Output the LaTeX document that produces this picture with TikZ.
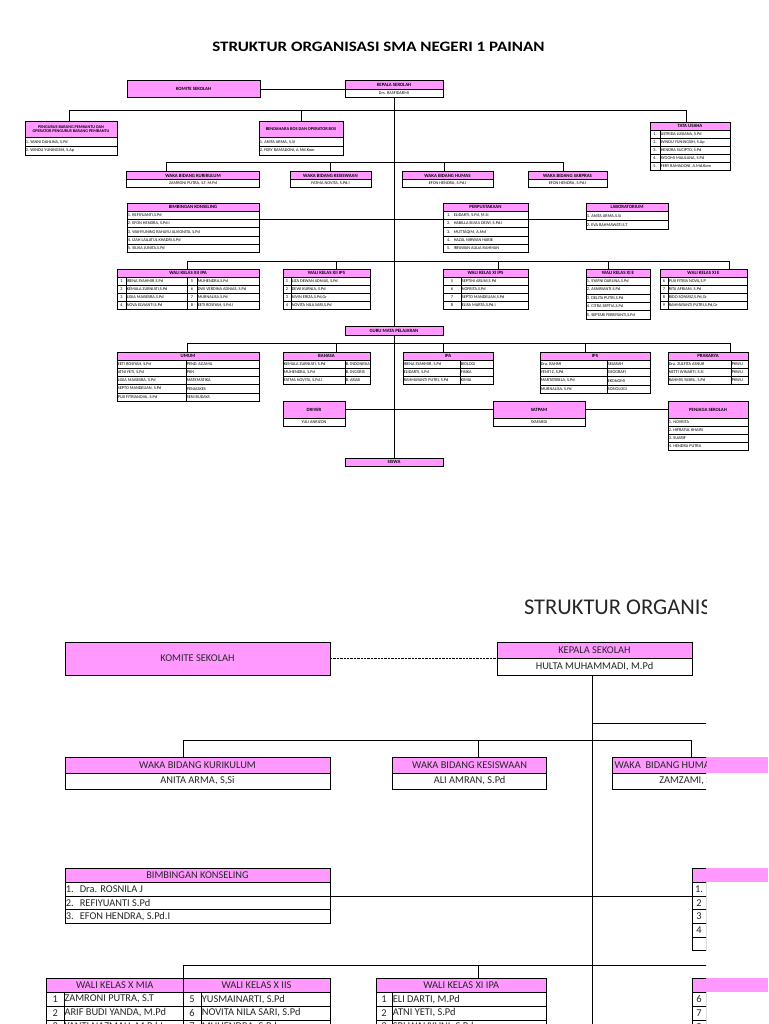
\documentclass[tikz,border=0pt]{standalone}
\usepackage{fontspec}
\setmainfont{Carlito}
\usepackage{graphicx}
\usepackage{tikz}
\usetikzlibrary{positioning,calc}
\definecolor{kotak}{RGB}{255,153,255}

\begin{document}
\begin{tikzpicture}[
    x=1pt, y=-1pt,
    every node/.style={inner sep=0pt, outer sep=0pt},
    kecil/.style={font=\fontsize{4.3}{4.7}\selectfont},
    kecilb/.style={font=\fontsize{4.8}{5.2}\selectfont\bfseries},
    besar/.style={font=\fontsize{10.4}{12}\selectfont, text=black!85},
    hd/.style={draw, fill=kotak, minimum width=#1, align=center, anchor=north west, kecilb},
    bd/.style={draw, fill=white, minimum width=#1, align=center, anchor=north west, kecil},
    rw/.style={draw, fill=white, anchor=north west, kecil,
        execute at begin node={\hbox to #1pt\bgroup\kern0.8pt},
        execute at end node={\hss\egroup}},
    garis/.style={line width=0.6pt},
    garisB/.style={line width=0.9pt},
    putus/.style={line width=0.9pt, dash pattern=on 2.4pt off 1pt}
]
\useasboundingbox (0,0) rectangle (768,1024);

% ===== Bagian atas =====
\node[font=\fontsize{14.4}{16}\selectfont\bfseries] (judulA) at (378.4,47.3)
    {\scalebox{1.18}[1]{STRUKTUR ORGANISASI SMA NEGERI 1 PAINAN}};

% Komite dan kepala sekolah
\node[hd=133, minimum height=17.7] (komiteA) at (127,80) {KOMITE SEKOLAH};
\node[hd=98, minimum height=9] (kepalaA) at (345,80) {KEPALA SEKOLAH};
\node[bd=98, minimum height=8.7] (kepalaAn) at (345,89) {Drs. RASFIDARMI};

% Pengurus barang, bendahara, tata usaha
\node[hd=92, minimum height=16.5, font=\fontsize{4.2}{4.6}\selectfont\bfseries] (pbA) at (25,121)
    {PENGURUS BARANG PEMBANTU DAN\\OPERATOR PENGURUS BARANG PEMBANTU};
\foreach \t [count=\i] in {{1. YANNI DAHLINA, S.Pd},{2. WINDU YUNINGSIH, S.Ap}}
    \node[rw=92, minimum height=8.75] (pb\i) at (25,{137.5+(\i-1)*8.75}) {\t};
\node[hd=84, minimum height=16.5, font=\fontsize{4.4}{4.8}\selectfont\bfseries] (bosA) at (259,121) {BENDAHARA BOS DAN OPERATOR BOS};
\foreach \t [count=\i] in {{1. ANITA ARMA, S.Si},{2. FERY RAMADONI, A.Md.Kom}}
    \node[rw=84, minimum height=8.75] (bos\i) at (259,{137.5+(\i-1)*8.75}) {\t};
\node[hd=80, minimum height=8] (tuA) at (650,122) {TATA USAHA};
\foreach \t [count=\i] in {{ASTRIDA LUSIANA, S.Pd},{WINDU YUNINGSIH, S.Ap},{HENDRA SUCIPTO, S.Pd},
        {SYOOMI MAULANA, S.Pd},{FERY RAMADONI, A.Md.Kom}} {
    \node[bd=10, minimum height=8] (tuN\i) at (650,{130+(\i-1)*8}) {\i.};
    \node[rw=70, minimum height=8] (tu\i) at (660,{130+(\i-1)*8}) {\t};
}

% Waka
\node[hd=133, minimum height=7.5] (kurA) at (126.5,171.7) {WAKA BIDANG KURIKULUM};
\node[bd=133, minimum height=8.5] (kurAn) at (126.5,179.2) {ZAMRONI PUTRA, S.T, M.Pd};
\node[hd=81, minimum height=7.5] (kesA) at (290,171.7) {WAKA BIDANG KESISWAAN};
\node[bd=81, minimum height=8.5] (kesAn) at (290,179.2) {FATMA NOVITA, S.Pd.I};
\node[hd=91, minimum height=7.5] (humA) at (402,171.7) {WAKA BIDANG HUMAS};
\node[bd=91, minimum height=8.5] (humAn) at (402,179.2) {EFON HENDRA, S.Pd.I};
\node[hd=79, minimum height=7.5] (sarA) at (528,171.7) {WAKA BIDANG SARPRAS};
\node[bd=79, minimum height=8.5] (sarAn) at (528,179.2) {EFON HENDRA, S.Pd.I};

% BK, perpustakaan, laboratorium
\node[hd=132, minimum height=8] (bkA) at (127,203) {BIMBINGAN KONSELING};
\foreach \t [count=\i] in {{1. REFIYUANTI,S.Pd},{2. EFON HENDRA, S.Pd.I},{3. WAHYUNING RAHAYU ALVIONITA, S.Pd},
        {4. IZAH LAILATUL KHADRI,S.Pd},{5. SILVIA JUNITA,S.Pd}}
    \node[rw=132, minimum height=8.33] (bk\i) at (127,{211+(\i-1)*8.33}) {\t};
\node[hd=85, minimum height=8] (perA) at (443,203) {PERPUSTAKAAN};
\foreach \t [count=\i] in {{ELIDARTI, S.Pd, M.Si},{HABILLA SILVIA DEWI, S.Pd.I},{MUTTAQIM, A.Md},
        {HAZAL NIRWAN HABIE},{IRFAWAN AULIA RAHMAN}}
    \node[rw=85, minimum height=8.33] (per\i) at (443,{211+(\i-1)*8.33}) {\makebox[10pt]{\i.}\t};
\node[hd=82, minimum height=8.3] (labA) at (586,203) {LABORATORIUM};
\foreach \t [count=\i] in {{1. ANITA ARMA,S.Si},{2. EVA RAHMAWATI,S.T}}
    \node[rw=82, minimum height=9.2] (lab\i) at (586,{211.3+(\i-1)*9.2}) {\t};

% Wali kelas
\node[hd=142, minimum height=8] (wk1A) at (117,269) {WALI KELAS XII IPA};
\foreach \xa/\ya/\xb/\yb [count=\i] in {1/{IRENA SYAHMIR,S.Pd}/5/{MUHENDRA,S.Pd},
        2/{KEMALA ZURNIATI,S.Pd}/6/{DWI VERDINA ADNIAS, S.Pd},3/{LIDIA MAISESRA,S.Pd}/7/{MURNALISA,S.Pd},
        4/{NOVA ELVIANTI,S.Pd}/8/{EETI ROSIYAH, S.Pd.I}} {
    \node[bd=9, minimum height=8] (wk1a\i) at (117,{277+(\i-1)*8}) {\xa};
    \node[rw=61, minimum height=8] (wk1s\i) at (126,{277+(\i-1)*8}) {\ya};
    \node[bd=10, minimum height=8] (wk1b\i) at (187,{277+(\i-1)*8}) {\xb};
    \node[rw=62, minimum height=8] (wk1t\i) at (197,{277+(\i-1)*8}) {\yb};
}
\node[hd=87, minimum height=8] (wk2A) at (283,269) {WALI KELAS XII IPS};
\foreach \t [count=\i] in {{LIZA DEWAN ADNIAS, S.Pd},{DEWI KURNIA, S.Pd},{NIVIN ERIZA,S.Pd,Gr},{NOVITA NILA SARI,S.Pd}} {
    \node[bd=8, minimum height=8] (wk2a\i) at (283,{277+(\i-1)*8}) {\i};
    \node[rw=79, minimum height=8] (wk2s\i) at (291,{277+(\i-1)*8}) {\t};
}
\node[hd=85, minimum height=8] (wk3A) at (443,269) {WALI KELAS XI IPS};
\foreach \n/\t in {5/{SEPTINI ARLINI,S.Pd},6/{NOFRITA,S.Pd},7/{SEPTO MANDELIAN,S.Pd},8/{ELISA MARTA,S.Pd.I}} {
    \node[bd=18, minimum height=8] (wk3a\n) at (443,{277+(\n-5)*8}) {\n};
    \node[rw=67, minimum height=8] (wk3s\n) at (461,{277+(\n-5)*8}) {\t};
}
\node[hd=64, minimum height=8] (wk4A) at (586,269) {WALI KELAS XI E};
\foreach \t [count=\i] in {{1. SYAFNI DARLINA,S.Pd},{2. ASNIRIANTI,S.Pd},{3. DELITA PUTRI,S.Pd},
        {4. CITRA SEPTIA,S.Pd},{5. SEPTARI FEBRIYANTI,S.Pd}}
    \node[rw=64, minimum height=8.4] (wk4s\i) at (586,{277+(\i-1)*8.4}) {\t};
\node[hd=87, minimum height=8] (wk5A) at (660,269) {WALI KELAS XI E};
\foreach \n/\t in {6/{PUJI FITRIA NOVA,S.P},7/{RITA AFRIANI, S.Pd},8/{RIDO SOFARIZ,S.Pd,Gr},9/{RAHMAYANTI PUTRI,S.Pd,Gr}} {
    \node[bd=8, minimum height=8] (wk5a\n) at (660,{277+(\n-6)*8}) {\n};
    \node[rw=79, minimum height=8] (wk5s\n) at (668,{277+(\n-6)*8}) {\t};
}

% Guru mata pelajaran
\node[hd=98, minimum height=9] (guruA) at (345,326) {GURU MATA PELAJARAN};
\node[hd=142, minimum height=8] (umumA) at (117,352) {UMUM};
\foreach \ya/\yb [count=\i] in {{EETI ROSIYAH, S.Pd}/{PEND. AGAMA},{ATNI YETI, S.Pd}/{PKN},
        {LIDIA MAISESRA, S.Pd}/{MATEMATIKA},{SEPTO MANDELIAN, S.Pd}/{PENJASKES},{PUJI FITRIANOVA, S.Pd}/{SENI BUDAYA}} {
    \node[rw=69, minimum height=8.2] (umum\i) at (117,{360+(\i-1)*8.2}) {\ya};
    \node[rw=73, minimum height=8.2] (umumM\i) at (186,{360+(\i-1)*8.2}) {\yb};
}
\node[hd=87, minimum height=8] (bhsA) at (283,352) {BAHASA};
\foreach \ya/\yb [count=\i] in {{KEMALA ZURNIATI, S.Pd}/{B. INDONESIA},{MUHENDRA, S.Pd}/{B. INGGRIS},
        {FATMA NOVITA, S.Pd.I}/{B. ARAB}} {
    \node[rw=62, minimum height=8] (bhs\i) at (283,{360+(\i-1)*8}) {\ya};
    \node[rw=25, minimum height=8] (bhsM\i) at (345,{360+(\i-1)*8}) {\yb};
}
\node[hd=90, minimum height=8] (ipaA) at (403,352) {IPA};
\foreach \ya/\yb [count=\i] in {{IRENA SYAHMIR, S.Pd}/{BIOLOGI},{ELIDARTI, S.Pd}/{FISIKA},
        {RAHMAYANTI PUTRI, S.Pd}/{KIMIA}} {
    \node[rw=57, minimum height=8] (ipa\i) at (403,{360+(\i-1)*8}) {\ya};
    \node[rw=33, minimum height=8] (ipaM\i) at (460,{360+(\i-1)*8}) {\yb};
}
\node[hd=110, minimum height=8] (ipsA) at (540,352) {IPS};
\foreach \ya/\yb [count=\i] in {{Dra. RAHMI}/{SEJARAH},{YENTI Z, S.Pd}/{GEOGRAFI},
        {MARTATIBELA, S.Pd}/{EKONOMI},{MURNALISA, S.Pd}/{SOSIOLOGI}} {
    \node[rw=67, minimum height=8.25] (ips\i) at (540,{360+(\i-1)*8.25}) {\ya};
    \node[rw=43, minimum height=8.25] (ipsM\i) at (607,{360+(\i-1)*8.25}) {\yb};
}
\node[hd=80, minimum height=8] (praA) at (668,352) {PRAKARYA};
\foreach \ya/\yb [count=\i] in {{Dra. ZULFITA ASNUR}/{PKWU},{NETTI WINARTI, S.Si}/{PKWU},
        {RAHMIS YASRIL, S.Pd}/{PKWU}} {
    \node[rw=63, minimum height=8] (pra\i) at (668,{360+(\i-1)*8}) {\ya};
    \node[rw=17, minimum height=8] (praM\i) at (731,{360+(\i-1)*8}) {\yb};
}

% Driver, satpam, penjaga, siswa
\node[hd=62, minimum height=17] (drvA) at (283,401) {DRIVER};
\node[bd=62, minimum height=8] (drvAn) at (283,418) {YULI ANRIZON};
\node[hd=92, minimum height=17] (satA) at (493,401) {SATPAM};
\node[bd=92, minimum height=8] (satAn) at (493,418) {SYAFARDI};
\node[hd=80, minimum height=17] (pjgA) at (668,401) {PENJAGA SEKOLAH};
\foreach \t [count=\i] in {{1. NOVRITA},{2. HIFRATUL KHAIRI},{3. SUARIF},{4. HENDRA PUTRA}}
    \node[rw=80, minimum height=8] (pjg\i) at (668,{418+(\i-1)*8}) {\t};
\node[hd=98, minimum height=8] (siswaA) at (345,458) {SISWA};

% -- garis bagian atas --
\draw[garis] (komiteA.east) -- (komiteA.east -| kepalaA.west);
\draw[garis] (kepalaAn.south) -- (guruA.north);
\draw[garis] (guruA.south) -- (siswaA.north);
\draw[garis] ([xshift=-2pt]pbA.north) -- ++(0,-11) -| ([xshift=-4pt]tuA.north);
\draw[garis] (bosA.north) -- ++(0,-11);
\draw[garis] ([xshift=-27pt]kurA.north) -- ++(0,-9) -| ([xshift=-4pt]sarA.north);
\draw[garis] (kesA.north) -- ++(0,-9);
\draw[garis] ([xshift=-3.5pt]humA.north) -- ++(0,-9);
\draw[garis] (bk2.north east) -- (bk2.north east -| perA.west);
\draw[garis] (bk2.north east -| perA.east) -- (bk2.north east -| labA.west);
\draw[garis] ([xshift=-1pt]wk1A.north) -- ++(0,-8) -| ([xshift=25.5pt]wk5A.north);
\draw[garis] ([xshift=9.5pt]wk2A.north) -- ++(0,-8);
\draw[garis] ([xshift=12.5pt]wk3A.north) -- ++(0,-8);
\draw[garis] ([xshift=-10pt]wk4A.north) -- ++(0,-8);
\draw[garis] ([xshift=-1pt]umumA.north) -- ++(0,-9) -| ([xshift=22pt]praA.north);
\draw[garis] ([xshift=9.5pt]bhsA.north) -- ++(0,-9);
\draw[garis] ([xshift=-5pt]ipaA.north) -- ++(0,-9);
\draw[garis] ([xshift=-10pt]ipsA.north) -- ++(0,-9);
\draw[garis] (drvA.east) -- (satA.west);
\draw[garis] (satA.east) -- (pjgA.west);

% ===== Bagian bawah (terpotong di kanan) =====
\fill[kotak] (706,756.7) rectangle (768,772.7);
\fill[kotak] (706,868.3) rectangle (768,882.3);
\fill[kotak] (706,978.3) rectangle (768,992.3);
\begin{scope}
\clip (0,560) rectangle (706,1024);
\node[font=\fontsize{22.5}{26}\selectfont, text=black!85, anchor=west] (judulB) at (524,607)
    {STRUKTUR ORGANISASI SMA NEGERI 1 PAINAN};

\node[hd=265, minimum height=33.3, besar] (komiteB) at (65,641.7) {KOMITE SEKOLAH};
\node[hd=195, minimum height=16, besar] (kepalaB) at (497,641.7) {KEPALA SEKOLAH};
\node[bd=195, minimum height=17.3, besar] (kepalaBn) at (497,657.7) {HULTA MUHAMMADI, M.Pd};

\node[hd=265, minimum height=16, besar] (kurB) at (65,756.7) {WAKA BIDANG KURIKULUM};
\node[bd=265, minimum height=16.6, besar] (kurBn) at (65,772.7) {ANITA ARMA, S,Si};
\node[hd=154, minimum height=16, besar] (kesB) at (392.6,756.7) {WAKA BIDANG KESISWAAN};
\node[bd=154, minimum height=16.6, besar] (kesBn) at (392.6,772.7) {ALI AMRAN, S.Pd};
\node[rw=160, fill=kotak, minimum height=16, besar] (humB) at (611.8,756.7) {\kern2pt WAKA~~BIDANG HUMAS};
\node[bd=160, minimum height=16.6, besar] (humBn) at (611.8,772.7) {ZAMZAMI, S.Pd};

\node[hd=265, minimum height=14, besar] (bkB) at (65,868.3) {BIMBINGAN KONSELING};
\foreach \t [count=\i] in {{Dra. ROSNILA J},{REFIYUANTI S.Pd},{EFON HENDRA, S.Pd.I}}
    \node[rw=265, minimum height=13.67, besar] (bkB\i) at (65,{882.3+(\i-1)*13.67}) {\makebox[14pt][l]{\i.}\t};
\node[hd=160, minimum height=14, besar] (bkR) at (692,868.3) {};
\foreach \t [count=\i] in {1.,2,3,4,{}}
    \node[bd=14, minimum height=13.67, besar] (bkR\i) at (692,{882.3+(\i-1)*13.67}) {\t};

\node[hd=136.4, minimum height=14, besar] (miaB) at (46.6,978.3) {WALI KELAS X MIA};
\foreach \t [count=\i] in {{ZAMRONI PUTRA, S.T},{ARIF BUDI YANDA, M.Pd},{YANTI NAZMAH, M.Pd.I}} {
    \node[bd=17.1, minimum height=13.7, besar] (miaN\i) at (46.6,{992.3+(\i-1)*13.7}) {\i};
    \node[rw=119.3, minimum height=13.7, besar] (mia\i) at (63.7,{992.3+(\i-1)*13.7}) {\t};
}
\node[hd=147, minimum height=14, besar] (iisB) at (183,978.3) {WALI KELAS X IIS};
\foreach \n/\t in {5/{YUSMAINARTI, S.Pd},6/{NOVITA NILA SARI, S.Pd},7/{MUHENDRA, S.Pd}} {
    \node[bd=18, minimum height=13.7, besar] (iisN\n) at (183,{992.3+(\n-5)*13.7}) {\n};
    \node[rw=129, minimum height=13.7, besar] (iis\n) at (201,{992.3+(\n-5)*13.7}) {\t};
}
\node[hd=170.6, minimum height=14, besar] (ipaB) at (376,978.3) {WALI KELAS XI IPA};
\foreach \t [count=\i] in {{ELI DARTI, M.Pd},{ATNI YETI, S.Pd},{SRI WAHYUNI, S.Pd}} {
    \node[bd=16, minimum height=13.7, besar] (ipaN\i) at (376,{992.3+(\i-1)*13.7}) {\i};
    \node[rw=154.6, minimum height=13.7, besar] (ipaB\i) at (392,{992.3+(\i-1)*13.7}) {\t};
}
\node[hd=160, minimum height=14, besar] (wR) at (692,978.3) {};
\foreach \n in {6,7,8}
    \node[bd=14, minimum height=13.7, besar] (wRN\n) at (692,{992.3+(\n-6)*13.7}) {\n};

% -- garis bagian bawah --
\draw[putus] (komiteB.east) -- (komiteB.east -| kepalaB.west);
\draw[garisB] ([xshift=-2.5pt]kepalaBn.south) -- ++(0,360);
\draw[garisB] ([xshift=-2.5pt]kepalaBn.south) ++(0,48.3) -- ++(130,0);
\draw[garisB] ([xshift=-14.5pt]kurB.north) -- ++(0,-16) -| (humB.north);
\draw[garisB] ([xshift=8.4pt]kesB.north) -- ++(0,-16);
\draw[garisB] (bkB2.north east) -- (bkB2.north east -| bkR.west);
\draw[garisB] (miaB.north east) -- ++(0,-13.3) -| (wR.north);
\draw[garisB] ([xshift=16.7pt]ipaB.north) -- ++(0,-13.3);
\end{scope}
\end{tikzpicture}
\end{document}
